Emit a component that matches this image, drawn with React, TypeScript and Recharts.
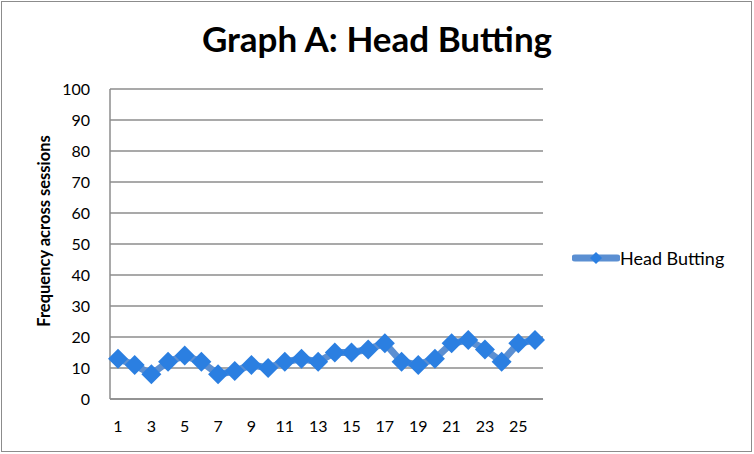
import { LineChart, Line, XAxis, YAxis, CartesianGrid, Legend } from "recharts";

const sessions = Array.from({ length: 26 }, (_, i) => String(i + 1));
const headButting = [13, 11, 8, 12, 14, 12, 8, 9, 11, 10, 12, 13, 12, 15, 15, 16, 18, 12, 11, 13, 18, 19, 16, 12, 18, 19];
const yTicks = [0, 10, 20, 30, 40, 50, 60, 70, 80, 90, 100];

const data = sessions.map((s, i) => ({ session: s, value: headButting[i] }));

const FONT = "Lato, 'Open Sans', sans-serif";
const GRID = "#8c8c8c";
const LINE = "#5b8fd2";
const MARK = "#2b7fe1";

function Diamond(props: any) {
  const { cx, cy } = props;
  if (cx == null || cy == null) return null;
  const r = 10;
  return <path d={`M${cx},${cy - r}L${cx + r},${cy}L${cx},${cy + r}L${cx - r},${cy}Z`} fill={MARK} />;
}

function LegendBox() {
  return (
    <div style={{ display: "flex", alignItems: "center", fontFamily: FONT, fontSize: 18, color: "#000" }}>
      <svg width={48} height={20}>
        <line x1={3} y1={10} x2={45} y2={10} stroke={LINE} strokeWidth={7} strokeLinecap="round" />
        <path d="M24,4L30,10L24,16L18,10Z" fill={MARK} />
      </svg>
      <span>Head Butting</span>
    </div>
  );
}

function YLabel() {
  const cy = 231;
  return (
    <text x={44} y={cy} transform={`rotate(-90, 44, ${cy})`} textAnchor="middle" dominantBaseline="central"
      fontFamily={FONT} fontWeight={700} fontSize={16.5} fill="#000">
      Frequency across sessions
    </text>
  );
}

export default function App() {
  return (
    <div style={{ position: "absolute", left: 0, top: 0, width: 754, height: 454, background: "#fff" }}>
      <div style={{ position: "absolute", left: 1, top: 1, width: 749, height: 449, border: `1.5px solid ${GRID}` }} />
      <div style={{ position: "absolute", left: 0, top: 17, width: 754, textAlign: "center", fontFamily: FONT, fontWeight: 700, fontSize: 35, color: "#000" }}>
        Graph A: Head Butting
      </div>
      <LineChart width={754} height={454} data={data} margin={{ top: 89, right: 211, bottom: 20, left: 50 }}>
        <CartesianGrid vertical={false} stroke={GRID} strokeWidth={1.5} />
        <XAxis dataKey="session" interval={1} tickLine={false} axisLine={{ stroke: GRID, strokeWidth: 1.5 }}
          padding={{ left: 8, right: 8 }}
          tickMargin={16} height={35} tick={{ fontFamily: FONT, fontSize: 16, fill: "#000" }} />
        <YAxis domain={[0, 100]} ticks={yTicks} width={60} tickLine={false} axisLine={{ stroke: GRID, strokeWidth: 1.5 }}
          tickMargin={14} tick={{ fontFamily: FONT, fontSize: 16, fill: "#000" }} label={<YLabel />} />
        <Legend layout="horizontal" verticalAlign="middle" align="center" content={() => <LegendBox />}
          wrapperStyle={{ position: "absolute", left: 572, top: 247, width: 180 }} />
        <Line dataKey="value" name="Head Butting" stroke={LINE} strokeWidth={7} dot={<Diamond />} activeDot={false}
          isAnimationActive={false} />
      </LineChart>
    </div>
  );
}
